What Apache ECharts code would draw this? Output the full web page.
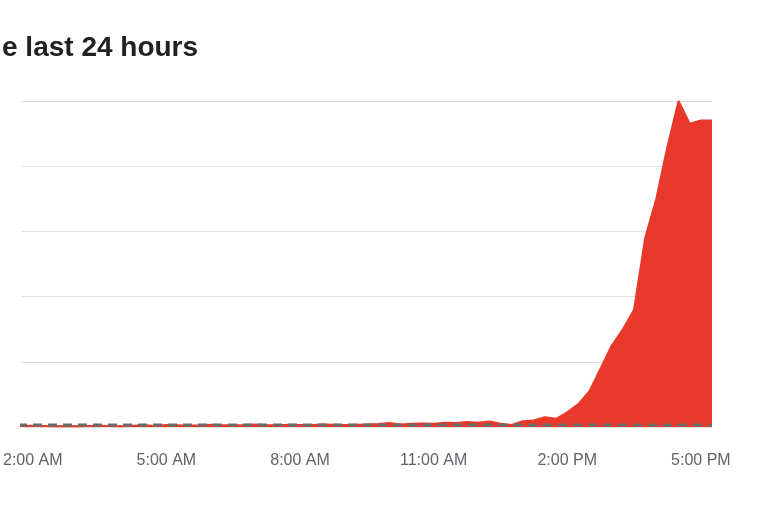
<!DOCTYPE html>
<html><head><meta charset="utf-8">
<script src="https://cdn.jsdelivr.net/npm/echarts@6/dist/echarts.min.js"></script>
<style>html,body{margin:0;padding:0;background:#fff}#c{width:768px;height:511px}</style>
</head><body><div id="c"></div>
<script>
const titleText = "e last 24 hours";
const startHour = -6.75, stepHour = 0.25;
const recentValues = [
 0.6,0.7,0.5,0.6,0.8,0.6,0.5,0.7,0.6,0.5,0.6,0.7,
 0.5,0.6,0.7,0.5,0.6,0.6,0.5,0.7,0.6,0.5,0.6,0.5,
 0.4,0.5,0.6,0.4,0.2,0.4,0.5,0.3,0.5,0.4,0.3,0.4,
 0.3,0.2,0.3,0.2,0.3,0.4,0.3,0.2,0.4,0.5,0.3,0.6,
 0.5,0.4,0.5,0.7,0.5,0.5,0.6,0.8,0.6,0.5,0.7,0.6,
 0.6,0.8,0.7,0.6,0.7,0.8,0.9,1.2,0.8,1.0,1.1,1.0,
 1.3,1.2,1.5,1.3,1.7,
 1.0,0.6,1.8,2.0,3.0,2.5,4.5,7,11,18,25,30,36,58,70,86,100,93,94,94];
const benchmarkValues = recentValues.map((v,i)=> i<30 ? 0.9 : 0.6);
const hours = recentValues.map((v,i)=> startHour + i*stepHour);
function fmt(h){ if(Math.abs(h-Math.round(h))>1e-6) return ''; h=Math.round(h); if(((h%3)+3)%3!==2) return '';
  h=((h%24)+24)%24;const ap=h<12?'AM':'PM';let hh=h%12;if(hh===0)hh=12;return hh+':00 '+ap;}
const chart = echarts.init(document.getElementById('c'));
chart.setOption({
 animation:false,
 title:{text:titleText,left:-3,top:29,textStyle:{fontFamily:'Liberation Sans, Arial',fontSize:28,fontWeight:'bold',color:'#202124'}},
 grid:{left:0,right:56,top:101,bottom:84,containLabel:false},
 xAxis:{type:'value',min:1.75,max:17.25,interval:0.25,
   axisLine:{show:false},axisTick:{show:false},splitLine:{show:false},
   axisLabel:{formatter:fmt,showMaxLabel:false,showMinLabel:false,hideOverlap:false,interval:0,color:'#5f6368',fontSize:16,fontFamily:'Liberation Sans, Arial',margin:26}},
 yAxis:{type:'value',min:0,max:100,interval:20,axisLabel:{show:false},axisLine:{show:false},axisTick:{show:false},
   splitLine:{lineStyle:{color:'#e0e0e0',width:1}}},
 series:[
  {type:'line',data:hours.map((h,i)=>[h,recentValues[i]]),symbol:'none',clip:true,lineStyle:{color:'#e8392a',width:2},areaStyle:{color:'#e8392a',opacity:1},z:2},
  {type:'line',data:hours.map((h,i)=>[h,benchmarkValues[i]]),symbol:'none',clip:true,lineStyle:{color:'#6a6a6a',width:3,type:[9,6]},z:3}
 ]
});
</script></body></html>
